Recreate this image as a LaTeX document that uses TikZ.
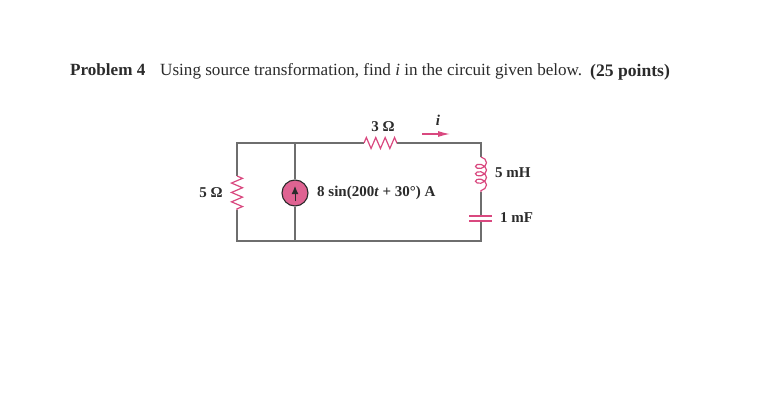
\documentclass[tikz,border=0pt]{standalone}
\usepackage{fontspec}
\setmainfont{Liberation Serif}
\usetikzlibrary{calc,arrows.meta,decorations.pathmorphing}

\definecolor{wiregray}{HTML}{6E6E6E}
\definecolor{partpink}{HTML}{D9487F}
\definecolor{inkdark}{HTML}{2B2B2B}

\tikzset{
  wire/.style={draw=wiregray,line width=1.3pt},
  zigpart/.style={draw=partpink,line width=1.2pt,decorate,
    decoration={zigzag,segment length=9.4pt,amplitude=5.5pt}},
  coilpart/.style={draw=partpink,line width=1.2pt,decorate,
    decoration={coil,aspect=0.7,segment length=7.4pt,amplitude=5.5pt}},
  plate/.style={draw=partpink,line width=1.4pt},
  lab/.style={font=\fontsize{15}{17}\selectfont\bfseries,text=inkdark,inner sep=0pt},
  titletext/.style={font=\fontsize{17.1}{19}\selectfont,text=inkdark,inner sep=0pt,anchor=base west}
}

\begin{document}
\begin{tikzpicture}[x=1pt,y=-1pt]

  \useasboundingbox (0,0) rectangle (771,409);

  % --- Problem statement ---
  \node[titletext,font=\fontsize{17.1}{19}\selectfont\bfseries] (prob) at (70,76) {Problem 4};
  \node[titletext] (stmt) at (160,76) {Using source transformation, find \textit{i} in the circuit given below.};
  \node[titletext,font=\fontsize{17.6}{19}\selectfont\bfseries] (pts) at (590,77) {(25 points)};

  % --- Corners and junctions ---
  \coordinate (TL) at (237,143);
  \coordinate (TM) at (295,143);
  \coordinate (TR) at (481,143);
  \coordinate (BL) at (237,241);
  \coordinate (BM) at (295,241);
  \coordinate (BR) at (481,241);

  % --- Part end points ---
  \coordinate (R5a) at (237,176);
  \coordinate (R5b) at (237,210);
  \coordinate (R3a) at (364,143);
  \coordinate (R3b) at (397,143);
  \coordinate (L1a) at (481,157);
  \coordinate (L1b) at (481,192);
  \coordinate (C1a) at (481,216);
  \coordinate (C1b) at (481,221);

  % --- Source ---
  \node[circle,draw=inkdark,fill=partpink!85,line width=1.1pt,minimum size=26pt,inner sep=0pt] (src) at (295,193) {};

  % --- Wires ---
  \draw[wire] (R5a) -- (TL) -- (R3a);
  \draw[wire] (R3b) -- (TR) -- (L1a);
  \draw[wire] (L1b) -- (C1a);
  \draw[wire] (C1b) -- (BR) -- (BL) -- (R5b);
  \draw[wire] (TM) -- (src);
  \draw[wire] (src) -- (BM);

  % --- Parts ---
  \draw[zigpart] (R5a) -- (R5b);
  \draw[zigpart] (R3a) -- (R3b);
  \draw[coilpart] (L1a) -- (L1b);
  \draw[plate] ($(C1a)+(-12,0)$) -- ($(C1a)+(11,0)$);
  \draw[plate] ($(C1b)+(-12,0)$) -- ($(C1b)+(11,0)$);

  % --- Arrows ---
  \draw[inkdark,line width=1pt,-{Latex[length=8pt,width=7pt]}] ($(src.center)+(0,8)$) -- ($(src.center)+(0,-7)$);
  \coordinate (Ia) at (422,134);
  \coordinate (Ib) at (450,134);
  \draw[partpink,line width=1.2pt,-{Latex[length=12pt,width=6pt]}] (Ia) -- (Ib);

  % --- Labels ---
  \node[lab] (lab5) at (211,193) {5 Ω};
  \node[lab] (lab3) at (383,127) {3 Ω};
  \node[lab,font=\fontsize{15}{17}\selectfont\bfseries\itshape] (labi) at (438,120) {i};
  \node[lab,anchor=west] (labs) at (317,193) {8 sin(200\textit{t} + 30°) A};
  \node[lab,anchor=west] (labl) at (495,173) {5 mH};
  \node[lab,anchor=west] (labc) at (500,218) {1 mF};

\end{tikzpicture}
\end{document}
